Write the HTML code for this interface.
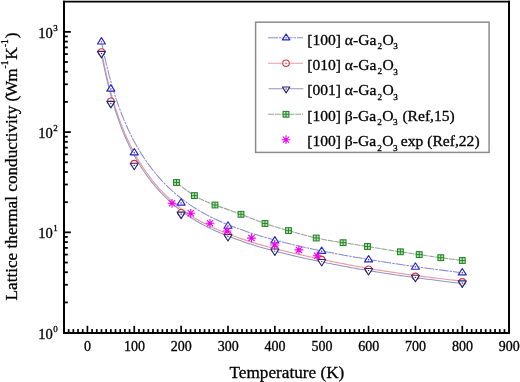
<!DOCTYPE html>
<html><head><meta charset="utf-8"><style>
html,body{margin:0;padding:0;background:#fff;}
svg{display:block;font-family:"Liberation Serif","Times New Roman",serif;}
text{stroke:#000;stroke-width:0.3px;paint-order:stroke;}
</style></head><body>
<svg width="520" height="382" viewBox="0 0 520 382">
<rect width="520" height="382" fill="#fff"/>
<path d="M101.46,41.80 L102.36,46.27 L103.28,50.65 L104.22,54.94 L105.17,59.14 L106.13,63.25 L107.11,67.28 L108.10,71.22 L109.10,75.08 L110.12,78.86 L111.15,82.55 L112.20,86.17 L113.25,89.72 L114.33,93.19 L115.41,96.58 L116.51,99.90 L117.62,103.16 L118.75,106.34 L119.89,109.45 L121.04,112.50 L122.20,115.48 L123.38,118.40 L124.57,121.26 L125.77,124.06 L126.99,126.80 L128.21,129.48 L129.45,132.11 L130.71,134.68 L131.97,137.20 L133.25,139.66 L134.54,142.08 L135.84,144.45 L137.15,146.77 L138.48,149.05 L139.81,151.28 L141.16,153.46 L142.52,155.60 L143.89,157.70 L145.26,159.76 L146.65,161.77 L148.05,163.74 L149.45,165.67 L150.86,167.55 L152.28,169.40 L153.71,171.21 L155.15,172.98 L156.59,174.71 L158.04,176.41 L159.49,178.06 L160.95,179.68 L162.42,181.27 L163.89,182.82 L165.36,184.33 L166.84,185.81 L168.32,187.26 L169.81,188.68 L171.30,190.06 L172.79,191.41 L174.28,192.73 L175.77,194.02 L177.27,195.28 L178.77,196.51 L180.26,197.71 L181.76,198.88 L183.26,200.03 L184.76,201.15 L186.26,202.24 L187.75,203.31 L189.25,204.35 L190.75,205.37 L192.25,206.36 L193.74,207.33 L195.24,208.28 L196.74,209.21 L198.24,210.12 L199.74,211.00 L201.23,211.87 L202.73,212.71 L204.23,213.54 L205.73,214.35 L207.22,215.14 L208.72,215.91 L210.22,216.67 L211.72,217.41 L213.22,218.14 L214.71,218.85 L216.21,219.55 L217.71,220.23 L219.21,220.90 L220.70,221.56 L222.20,222.21 L223.70,222.85 L225.20,223.48 L226.70,224.09 L228.19,224.70 L229.69,225.30 L231.19,225.90 L232.69,226.48 L234.19,227.05 L235.68,227.62 L237.18,228.18 L238.68,228.73 L240.18,229.28 L241.67,229.82 L243.17,230.35 L244.67,230.87 L246.17,231.38 L247.67,231.89 L249.16,232.40 L250.66,232.89 L252.16,233.38 L253.66,233.86 L255.15,234.34 L256.65,234.81 L258.15,235.27 L259.65,235.73 L261.15,236.18 L262.64,236.63 L264.14,237.07 L265.64,237.50 L267.14,237.93 L268.63,238.36 L270.13,238.78 L271.63,239.19 L273.13,239.60 L274.63,240.01 L276.12,240.41 L277.62,240.81 L279.12,241.20 L280.62,241.59 L282.12,241.97 L283.61,242.35 L285.11,242.73 L286.61,243.10 L288.11,243.47 L289.60,243.83 L291.10,244.19 L292.60,244.55 L294.10,244.90 L295.60,245.25 L297.09,245.60 L298.59,245.94 L300.09,246.28 L301.59,246.62 L303.08,246.95 L304.58,247.28 L306.08,247.61 L307.58,247.94 L309.08,248.26 L310.57,248.58 L312.07,248.90 L313.57,249.21 L315.07,249.53 L316.56,249.84 L318.06,250.14 L319.56,250.45 L321.06,250.75 L322.56,251.06 L324.05,251.36 L325.55,251.65 L327.06,251.95 L328.56,252.25 L330.07,252.54 L331.58,252.83 L333.10,253.12 L334.62,253.42 L336.15,253.71 L337.68,254.00 L339.23,254.29 L340.78,254.57 L342.35,254.86 L343.92,255.15 L345.50,255.44 L347.10,255.73 L348.71,256.02 L350.33,256.31 L351.97,256.60 L353.62,256.89 L355.29,257.19 L356.97,257.48 L358.68,257.77 L360.40,258.07 L362.13,258.37 L363.89,258.67 L365.67,258.97 L367.47,259.27 L369.29,259.58 L371.13,259.89 L373.00,260.20 L374.89,260.51 L376.81,260.83 L378.77,261.15 L380.76,261.47 L382.79,261.79 L384.86,262.12 L386.99,262.46 L389.16,262.80 L391.39,263.15 L393.68,263.50 L396.04,263.85 L398.46,264.22 L400.95,264.58 L403.51,264.96 L406.16,265.34 L408.88,265.73 L411.70,266.13 L414.60,266.54 L417.60,266.95 L420.69,267.38 L423.89,267.81 L427.19,268.25 L430.60,268.70 L434.13,269.16 L437.77,269.64 L441.53,270.12 L445.41,270.61 L449.43,271.12 L453.58,271.63 L457.86,272.16 L462.28,272.70" fill="none" stroke="#8a8ad8" stroke-width="1.05" stroke-dasharray="10 1 2.5 1"/><path d="M101.46,51.40 L102.36,56.06 L103.28,60.62 L104.22,65.08 L105.17,69.43 L106.13,73.69 L107.11,77.85 L108.10,81.91 L109.10,85.87 L110.12,89.75 L111.15,93.54 L112.20,97.23 L113.25,100.84 L114.33,104.37 L115.41,107.82 L116.51,111.18 L117.62,114.47 L118.75,117.68 L119.89,120.81 L121.04,123.88 L122.20,126.87 L123.38,129.79 L124.57,132.65 L125.77,135.44 L126.99,138.17 L128.21,140.84 L129.45,143.45 L130.71,146.00 L131.97,148.50 L133.25,150.94 L134.54,153.33 L135.84,155.67 L137.15,157.97 L138.48,160.22 L139.81,162.42 L141.16,164.57 L142.52,166.69 L143.89,168.75 L145.26,170.78 L146.65,172.76 L148.05,174.70 L149.45,176.60 L150.86,178.46 L152.28,180.27 L153.71,182.05 L155.15,183.79 L156.59,185.49 L158.04,187.15 L159.49,188.77 L160.95,190.36 L162.42,191.91 L163.89,193.43 L165.36,194.91 L166.84,196.36 L168.32,197.77 L169.81,199.16 L171.30,200.51 L172.79,201.82 L174.28,203.11 L175.77,204.37 L177.27,205.59 L178.77,206.79 L180.26,207.96 L181.76,209.10 L183.26,210.22 L184.76,211.30 L186.26,212.37 L187.75,213.40 L189.25,214.41 L190.75,215.40 L192.25,216.36 L193.74,217.31 L195.24,218.22 L196.74,219.12 L198.24,220.00 L199.74,220.85 L201.23,221.69 L202.73,222.50 L204.23,223.30 L205.73,224.08 L207.22,224.84 L208.72,225.58 L210.22,226.31 L211.72,227.02 L213.22,227.72 L214.71,228.40 L216.21,229.07 L217.71,229.73 L219.21,230.37 L220.70,231.00 L222.20,231.62 L223.70,232.23 L225.20,232.83 L226.70,233.42 L228.19,234.00 L229.69,234.57 L231.19,235.13 L232.69,235.69 L234.19,236.24 L235.68,236.78 L237.18,237.31 L238.68,237.83 L240.18,238.35 L241.67,238.86 L243.17,239.36 L244.67,239.85 L246.17,240.34 L247.67,240.83 L249.16,241.30 L250.66,241.77 L252.16,242.23 L253.66,242.69 L255.15,243.14 L256.65,243.59 L258.15,244.03 L259.65,244.46 L261.15,244.89 L262.64,245.31 L264.14,245.73 L265.64,246.15 L267.14,246.56 L268.63,246.96 L270.13,247.37 L271.63,247.76 L273.13,248.16 L274.63,248.54 L276.12,248.93 L277.62,249.31 L279.12,249.69 L280.62,250.07 L282.12,250.44 L283.61,250.81 L285.11,251.17 L286.61,251.53 L288.11,251.89 L289.60,252.25 L291.10,252.60 L292.60,252.95 L294.10,253.30 L295.60,253.65 L297.09,253.99 L298.59,254.33 L300.09,254.67 L301.59,255.00 L303.08,255.34 L304.58,255.67 L306.08,256.00 L307.58,256.33 L309.08,256.65 L310.57,256.98 L312.07,257.30 L313.57,257.62 L315.07,257.95 L316.56,258.26 L318.06,258.58 L319.56,258.90 L321.06,259.21 L322.56,259.53 L324.05,259.84 L325.55,260.16 L327.06,260.47 L328.56,260.78 L330.07,261.09 L331.58,261.40 L333.10,261.71 L334.62,262.02 L336.15,262.33 L337.68,262.64 L339.23,262.95 L340.78,263.26 L342.35,263.56 L343.92,263.87 L345.50,264.18 L347.10,264.49 L348.71,264.79 L350.33,265.10 L351.97,265.41 L353.62,265.72 L355.29,266.03 L356.97,266.34 L358.68,266.65 L360.40,266.96 L362.13,267.27 L363.89,267.58 L365.67,267.89 L367.47,268.20 L369.29,268.52 L371.13,268.83 L373.00,269.15 L374.89,269.47 L376.81,269.78 L378.77,270.10 L380.76,270.42 L382.79,270.75 L384.86,271.08 L386.99,271.41 L389.16,271.74 L391.39,272.08 L393.68,272.42 L396.04,272.77 L398.46,273.12 L400.95,273.47 L403.51,273.84 L406.16,274.21 L408.88,274.58 L411.70,274.96 L414.60,275.35 L417.60,275.75 L420.69,276.15 L423.89,276.56 L427.19,276.98 L430.60,277.41 L434.13,277.85 L437.77,278.30 L441.53,278.75 L445.41,279.22 L449.43,279.70 L453.58,280.19 L457.86,280.69 L462.28,281.20" fill="none" stroke="#e99ca2" stroke-width="1.15"/><path d="M101.46,53.70 L102.36,58.44 L103.28,63.06 L104.22,67.58 L105.17,71.99 L106.13,76.30 L107.11,80.50 L108.10,84.60 L109.10,88.60 L110.12,92.51 L111.15,96.32 L112.20,100.03 L113.25,103.66 L114.33,107.20 L115.41,110.66 L116.51,114.03 L117.62,117.32 L118.75,120.53 L119.89,123.66 L121.04,126.71 L122.20,129.70 L123.38,132.61 L124.57,135.45 L125.77,138.23 L126.99,140.94 L128.21,143.59 L129.45,146.18 L130.71,148.72 L131.97,151.19 L133.25,153.61 L134.54,155.98 L135.84,158.30 L137.15,160.58 L138.48,162.80 L139.81,164.98 L141.16,167.12 L142.52,169.21 L143.89,171.26 L145.26,173.26 L146.65,175.23 L148.05,177.15 L149.45,179.02 L150.86,180.86 L152.28,182.66 L153.71,184.42 L155.15,186.14 L156.59,187.82 L158.04,189.47 L159.49,191.07 L160.95,192.64 L162.42,194.18 L163.89,195.68 L165.36,197.15 L166.84,198.58 L168.32,199.98 L169.81,201.35 L171.30,202.69 L172.79,204.00 L174.28,205.27 L175.77,206.52 L177.27,207.73 L178.77,208.92 L180.26,210.08 L181.76,211.22 L183.26,212.32 L184.76,213.40 L186.26,214.46 L187.75,215.49 L189.25,216.50 L190.75,217.48 L192.25,218.44 L193.74,219.38 L195.24,220.30 L196.74,221.19 L198.24,222.07 L199.74,222.92 L201.23,223.76 L202.73,224.57 L204.23,225.37 L205.73,226.15 L207.22,226.92 L208.72,227.66 L210.22,228.40 L211.72,229.11 L213.22,229.81 L214.71,230.50 L216.21,231.18 L217.71,231.84 L219.21,232.49 L220.70,233.13 L222.20,233.76 L223.70,234.37 L225.20,234.98 L226.70,235.58 L228.19,236.17 L229.69,236.75 L231.19,237.32 L232.69,237.89 L234.19,238.45 L235.68,239.00 L237.18,239.54 L238.68,240.07 L240.18,240.60 L241.67,241.12 L243.17,241.64 L244.67,242.15 L246.17,242.65 L247.67,243.14 L249.16,243.63 L250.66,244.11 L252.16,244.59 L253.66,245.06 L255.15,245.52 L256.65,245.98 L258.15,246.43 L259.65,246.88 L261.15,247.32 L262.64,247.75 L264.14,248.18 L265.64,248.61 L267.14,249.03 L268.63,249.44 L270.13,249.85 L271.63,250.26 L273.13,250.66 L274.63,251.06 L276.12,251.45 L277.62,251.84 L279.12,252.23 L280.62,252.61 L282.12,252.99 L283.61,253.36 L285.11,253.73 L286.61,254.10 L288.11,254.46 L289.60,254.82 L291.10,255.17 L292.60,255.53 L294.10,255.88 L295.60,256.22 L297.09,256.57 L298.59,256.91 L300.09,257.25 L301.59,257.58 L303.08,257.91 L304.58,258.24 L306.08,258.57 L307.58,258.90 L309.08,259.22 L310.57,259.54 L312.07,259.86 L313.57,260.18 L315.07,260.49 L316.56,260.81 L318.06,261.12 L319.56,261.43 L321.06,261.74 L322.56,262.04 L324.05,262.35 L325.55,262.65 L327.06,262.95 L328.56,263.26 L330.07,263.56 L331.58,263.86 L333.10,264.16 L334.62,264.45 L336.15,264.75 L337.68,265.05 L339.23,265.35 L340.78,265.64 L342.35,265.94 L343.92,266.23 L345.50,266.53 L347.10,266.83 L348.71,267.12 L350.33,267.42 L351.97,267.71 L353.62,268.01 L355.29,268.31 L356.97,268.61 L358.68,268.91 L360.40,269.20 L362.13,269.50 L363.89,269.81 L365.67,270.11 L367.47,270.41 L369.29,270.72 L371.13,271.02 L373.00,271.33 L374.89,271.64 L376.81,271.95 L378.77,272.26 L380.76,272.58 L382.79,272.90 L384.86,273.22 L386.99,273.55 L389.16,273.88 L391.39,274.21 L393.68,274.55 L396.04,274.90 L398.46,275.25 L400.95,275.61 L403.51,275.97 L406.16,276.34 L408.88,276.72 L411.70,277.10 L414.60,277.50 L417.60,277.90 L420.69,278.31 L423.89,278.73 L427.19,279.16 L430.60,279.59 L434.13,280.04 L437.77,280.50 L441.53,280.97 L445.41,281.45 L449.43,281.95 L453.58,282.45 L457.86,282.97 L462.28,283.50" fill="none" stroke="#9494c0" stroke-width="1.05"/><path d="M176.50,182.50 L177.22,183.07 L177.93,183.64 L178.65,184.20 L179.37,184.77 L180.08,185.33 L180.80,185.90 L181.51,186.46 L182.23,187.01 L182.95,187.56 L183.66,188.11 L184.38,188.66 L185.10,189.20 L185.81,189.73 L186.53,190.26 L187.24,190.79 L187.96,191.31 L188.68,191.82 L189.39,192.32 L190.11,192.81 L190.83,193.30 L191.54,193.78 L192.26,194.25 L192.97,194.71 L193.69,195.16 L194.41,195.60 L195.12,196.03 L195.84,196.45 L196.56,196.86 L197.27,197.27 L197.99,197.66 L198.71,198.04 L199.42,198.41 L200.14,198.78 L200.85,199.13 L201.57,199.48 L202.29,199.82 L203.00,200.16 L203.72,200.49 L204.44,200.81 L205.15,201.12 L205.87,201.43 L206.58,201.74 L207.30,202.03 L208.02,202.33 L208.73,202.62 L209.45,202.90 L210.17,203.18 L210.88,203.46 L211.60,203.73 L212.31,204.00 L213.03,204.27 L213.75,204.54 L214.46,204.80 L215.18,205.07 L215.90,205.33 L216.61,205.59 L217.33,205.84 L218.04,206.10 L218.76,206.36 L219.48,206.61 L220.19,206.87 L220.91,207.12 L221.63,207.37 L222.34,207.63 L223.06,207.88 L223.78,208.13 L224.49,208.38 L225.21,208.63 L225.92,208.88 L226.64,209.13 L227.36,209.38 L228.07,209.64 L228.79,209.89 L229.51,210.14 L230.22,210.39 L230.94,210.64 L231.65,210.90 L232.37,211.15 L233.09,211.40 L233.80,211.66 L234.52,211.92 L235.24,212.17 L235.95,212.43 L236.67,212.69 L237.38,212.96 L238.10,213.22 L238.82,213.48 L239.53,213.75 L240.25,214.02 L240.97,214.29 L241.68,214.56 L242.40,214.83 L243.12,215.11 L243.83,215.38 L244.55,215.66 L245.26,215.94 L245.98,216.22 L246.70,216.50 L247.41,216.78 L248.13,217.07 L248.85,217.35 L249.56,217.63 L250.28,217.92 L250.99,218.20 L251.71,218.48 L252.43,218.76 L253.14,219.05 L253.86,219.33 L254.58,219.61 L255.29,219.89 L256.01,220.17 L256.72,220.44 L257.44,220.72 L258.16,220.99 L258.87,221.27 L259.59,221.54 L260.31,221.80 L261.02,222.07 L261.74,222.33 L262.45,222.59 L263.17,222.85 L263.89,223.11 L264.60,223.36 L265.32,223.61 L266.04,223.86 L266.75,224.10 L267.47,224.34 L268.19,224.58 L268.90,224.81 L269.62,225.05 L270.33,225.28 L271.05,225.50 L271.77,225.73 L272.48,225.95 L273.20,226.17 L273.92,226.39 L274.63,226.61 L275.35,226.82 L276.06,227.04 L276.78,227.25 L277.50,227.46 L278.21,227.67 L278.93,227.88 L279.65,228.08 L280.36,228.29 L281.08,228.49 L281.79,228.70 L282.51,228.90 L283.23,229.11 L283.94,229.31 L284.66,229.51 L285.38,229.72 L286.09,229.92 L286.81,230.12 L287.53,230.32 L288.24,230.53 L288.96,230.73 L289.67,230.93 L290.39,231.14 L291.11,231.34 L291.82,231.55 L292.54,231.75 L293.26,231.96 L293.97,232.16 L294.69,232.36 L295.40,232.57 L296.12,232.77 L296.84,232.98 L297.55,233.18 L298.27,233.38 L298.99,233.58 L299.70,233.78 L300.42,233.98 L301.13,234.18 L301.85,234.38 L302.57,234.58 L303.28,234.77 L304.00,234.96 L304.72,235.16 L305.43,235.35 L306.15,235.54 L306.86,235.73 L307.58,235.91 L308.30,236.10 L309.01,236.28 L309.73,236.46 L310.45,236.64 L311.16,236.82 L311.88,236.99 L312.60,237.17 L313.31,237.34 L314.03,237.51 L314.74,237.67 L315.46,237.83 L316.18,237.99 L316.89,238.15 L317.61,238.31 L318.33,238.46 L319.04,238.61 L319.76,238.76 L320.47,238.90 L321.19,239.04 L321.91,239.19 L322.62,239.32 L323.34,239.46 L324.06,239.59 L324.77,239.73 L325.49,239.86 L326.20,239.99 L326.92,240.11 L327.64,240.24 L328.35,240.36 L329.07,240.49 L329.79,240.61 L330.50,240.73 L331.22,240.84 L331.94,240.96 L332.65,241.08 L333.37,241.19 L334.08,241.31 L334.80,241.42 L335.52,241.53 L336.23,241.65 L336.95,241.76 L337.67,241.87 L338.38,241.98 L339.10,242.09 L339.81,242.20 L340.53,242.31 L341.25,242.42 L341.96,242.53 L342.68,242.64 L343.40,242.75 L344.11,242.85 L344.83,242.96 L345.54,243.07 L346.26,243.18 L346.98,243.29 L347.69,243.40 L348.41,243.51 L349.13,243.62 L349.84,243.73 L350.56,243.84 L351.27,243.95 L351.99,244.06 L352.71,244.17 L353.42,244.28 L354.14,244.40 L354.86,244.51 L355.57,244.62 L356.29,244.73 L357.01,244.84 L357.72,244.95 L358.44,245.06 L359.15,245.18 L359.87,245.29 L360.59,245.40 L361.30,245.51 L362.02,245.63 L362.74,245.74 L363.45,245.85 L364.17,245.97 L364.88,246.08 L365.60,246.20 L366.32,246.31 L367.03,246.43 L367.75,246.54 L368.47,246.66 L369.18,246.77 L369.90,246.89 L370.61,247.00 L371.33,247.12 L372.05,247.23 L372.76,247.35 L373.48,247.47 L374.20,247.58 L374.91,247.70 L375.63,247.82 L376.35,247.93 L377.06,248.05 L377.78,248.17 L378.49,248.28 L379.21,248.40 L379.93,248.52 L380.64,248.64 L381.36,248.75 L382.08,248.87 L382.79,248.99 L383.51,249.10 L384.22,249.22 L384.94,249.34 L385.66,249.45 L386.37,249.57 L387.09,249.69 L387.81,249.80 L388.52,249.92 L389.24,250.03 L389.95,250.15 L390.67,250.26 L391.39,250.38 L392.10,250.49 L392.82,250.61 L393.54,250.72 L394.25,250.84 L394.97,250.95 L395.68,251.06 L396.40,251.18 L397.12,251.29 L397.83,251.40 L398.55,251.51 L399.27,251.62 L399.98,251.74 L400.70,251.85 L401.42,251.96 L402.13,252.07 L402.85,252.18 L403.56,252.28 L404.28,252.39 L405.00,252.50 L405.71,252.61 L406.43,252.72 L407.15,252.82 L407.86,252.93 L408.58,253.04 L409.29,253.14 L410.01,253.25 L410.73,253.36 L411.44,253.46 L412.16,253.57 L412.88,253.67 L413.59,253.78 L414.31,253.88 L415.02,253.99 L415.74,254.09 L416.46,254.20 L417.17,254.30 L417.89,254.41 L418.61,254.51 L419.32,254.62 L420.04,254.72 L420.76,254.83 L421.47,254.93 L422.19,255.04 L422.90,255.14 L423.62,255.25 L424.34,255.35 L425.05,255.46 L425.77,255.56 L426.49,255.67 L427.20,255.77 L427.92,255.87 L428.63,255.98 L429.35,256.08 L430.07,256.19 L430.78,256.29 L431.50,256.39 L432.22,256.49 L432.93,256.60 L433.65,256.70 L434.36,256.80 L435.08,256.90 L435.80,257.00 L436.51,257.10 L437.23,257.21 L437.95,257.31 L438.66,257.41 L439.38,257.50 L440.09,257.60 L440.81,257.70 L441.53,257.80 L442.24,257.90 L442.96,257.99 L443.68,258.09 L444.39,258.19 L445.11,258.28 L445.83,258.38 L446.54,258.47 L447.26,258.57 L447.97,258.66 L448.69,258.76 L449.41,258.85 L450.12,258.94 L450.84,259.04 L451.56,259.13 L452.27,259.22 L452.99,259.31 L453.70,259.40 L454.42,259.50 L455.14,259.59 L455.85,259.68 L456.57,259.77 L457.29,259.86 L458.00,259.95 L458.72,260.05 L459.43,260.14 L460.15,260.23 L460.87,260.32 L461.58,260.41 L462.30,260.50" fill="none" stroke="#98a898" stroke-width="1.1" stroke-dasharray="6 0.8"/><circle cx="101.46" cy="52.00" r="3.25" fill="#fff" stroke="#dc3434" stroke-width="1.15"/><circle cx="101.46" cy="52.00" r="0.8" fill="#dc3434"/><circle cx="110.83" cy="101.20" r="3.25" fill="#fff" stroke="#dc3434" stroke-width="1.15"/><circle cx="110.83" cy="101.20" r="0.8" fill="#dc3434"/><circle cx="134.26" cy="163.60" r="3.25" fill="#fff" stroke="#dc3434" stroke-width="1.15"/><circle cx="134.26" cy="163.60" r="0.8" fill="#dc3434"/><circle cx="181.12" cy="212.70" r="3.25" fill="#fff" stroke="#dc3434" stroke-width="1.15"/><circle cx="181.12" cy="212.70" r="0.8" fill="#dc3434"/><circle cx="227.98" cy="234.70" r="3.25" fill="#fff" stroke="#dc3434" stroke-width="1.15"/><circle cx="227.98" cy="234.70" r="0.8" fill="#dc3434"/><circle cx="274.84" cy="249.00" r="3.25" fill="#fff" stroke="#dc3434" stroke-width="1.15"/><circle cx="274.84" cy="249.00" r="0.8" fill="#dc3434"/><circle cx="321.70" cy="259.60" r="3.25" fill="#fff" stroke="#dc3434" stroke-width="1.15"/><circle cx="321.70" cy="259.60" r="0.8" fill="#dc3434"/><circle cx="368.56" cy="269.20" r="3.25" fill="#fff" stroke="#dc3434" stroke-width="1.15"/><circle cx="368.56" cy="269.20" r="0.8" fill="#dc3434"/><circle cx="415.42" cy="276.40" r="3.25" fill="#fff" stroke="#dc3434" stroke-width="1.15"/><circle cx="415.42" cy="276.40" r="0.8" fill="#dc3434"/><circle cx="462.28" cy="281.80" r="3.25" fill="#fff" stroke="#dc3434" stroke-width="1.15"/><circle cx="462.28" cy="281.80" r="0.8" fill="#dc3434"/><path d="M101.46,37.60 L105.46,44.00 L97.46,44.00 Z" fill="#fff" stroke="#2626c8" stroke-width="1.15" stroke-linejoin="round"/><circle cx="101.46" cy="41.87" r="0.7" fill="#2626c8"/><path d="M110.83,84.70 L114.83,91.10 L106.83,91.10 Z" fill="#fff" stroke="#2626c8" stroke-width="1.15" stroke-linejoin="round"/><circle cx="110.83" cy="88.97" r="0.7" fill="#2626c8"/><path d="M134.26,148.50 L138.26,154.90 L130.26,154.90 Z" fill="#fff" stroke="#2626c8" stroke-width="1.15" stroke-linejoin="round"/><circle cx="134.26" cy="152.77" r="0.7" fill="#2626c8"/><path d="M181.12,198.70 L185.12,205.10 L177.12,205.10 Z" fill="#fff" stroke="#2626c8" stroke-width="1.15" stroke-linejoin="round"/><circle cx="181.12" cy="202.97" r="0.7" fill="#2626c8"/><path d="M227.98,221.80 L231.98,228.20 L223.98,228.20 Z" fill="#fff" stroke="#2626c8" stroke-width="1.15" stroke-linejoin="round"/><circle cx="227.98" cy="226.07" r="0.7" fill="#2626c8"/><path d="M274.84,236.60 L278.84,243.00 L270.84,243.00 Z" fill="#fff" stroke="#2626c8" stroke-width="1.15" stroke-linejoin="round"/><circle cx="274.84" cy="240.87" r="0.7" fill="#2626c8"/><path d="M321.70,247.00 L325.70,253.40 L317.70,253.40 Z" fill="#fff" stroke="#2626c8" stroke-width="1.15" stroke-linejoin="round"/><circle cx="321.70" cy="251.27" r="0.7" fill="#2626c8"/><path d="M368.56,255.50 L372.56,261.90 L364.56,261.90 Z" fill="#fff" stroke="#2626c8" stroke-width="1.15" stroke-linejoin="round"/><circle cx="368.56" cy="259.77" r="0.7" fill="#2626c8"/><path d="M415.42,262.80 L419.42,269.20 L411.42,269.20 Z" fill="#fff" stroke="#2626c8" stroke-width="1.15" stroke-linejoin="round"/><circle cx="415.42" cy="267.07" r="0.7" fill="#2626c8"/><path d="M462.28,268.50 L466.28,274.90 L458.28,274.90 Z" fill="#fff" stroke="#2626c8" stroke-width="1.15" stroke-linejoin="round"/><circle cx="462.28" cy="272.77" r="0.7" fill="#2626c8"/><path d="M97.46,51.35 L105.46,51.35 L101.46,57.85 Z" fill="#fff" stroke="#26267a" stroke-width="1.15" stroke-linejoin="round"/><circle cx="101.46" cy="53.52" r="0.7" fill="#26267a"/><path d="M106.83,101.35 L114.83,101.35 L110.83,107.85 Z" fill="#fff" stroke="#26267a" stroke-width="1.15" stroke-linejoin="round"/><circle cx="110.83" cy="103.52" r="0.7" fill="#26267a"/><path d="M130.26,163.25 L138.26,163.25 L134.26,169.75 Z" fill="#fff" stroke="#26267a" stroke-width="1.15" stroke-linejoin="round"/><circle cx="134.26" cy="165.42" r="0.7" fill="#26267a"/><path d="M177.12,212.15 L185.12,212.15 L181.12,218.65 Z" fill="#fff" stroke="#26267a" stroke-width="1.15" stroke-linejoin="round"/><circle cx="181.12" cy="214.32" r="0.7" fill="#26267a"/><path d="M223.98,234.45 L231.98,234.45 L227.98,240.95 Z" fill="#fff" stroke="#26267a" stroke-width="1.15" stroke-linejoin="round"/><circle cx="227.98" cy="236.62" r="0.7" fill="#26267a"/><path d="M270.84,248.95 L278.84,248.95 L274.84,255.45 Z" fill="#fff" stroke="#26267a" stroke-width="1.15" stroke-linejoin="round"/><circle cx="274.84" cy="251.12" r="0.7" fill="#26267a"/><path d="M317.70,259.45 L325.70,259.45 L321.70,265.95 Z" fill="#fff" stroke="#26267a" stroke-width="1.15" stroke-linejoin="round"/><circle cx="321.70" cy="261.62" r="0.7" fill="#26267a"/><path d="M364.56,268.45 L372.56,268.45 L368.56,274.95 Z" fill="#fff" stroke="#26267a" stroke-width="1.15" stroke-linejoin="round"/><circle cx="368.56" cy="270.62" r="0.7" fill="#26267a"/><path d="M411.42,275.25 L419.42,275.25 L415.42,281.75 Z" fill="#fff" stroke="#26267a" stroke-width="1.15" stroke-linejoin="round"/><circle cx="415.42" cy="277.42" r="0.7" fill="#26267a"/><path d="M458.28,280.85 L466.28,280.85 L462.28,287.35 Z" fill="#fff" stroke="#26267a" stroke-width="1.15" stroke-linejoin="round"/><circle cx="462.28" cy="283.02" r="0.7" fill="#26267a"/><rect x="173.60" y="179.60" width="5.8" height="5.8" fill="#a8eca8" stroke="#2a7f2a" stroke-width="1.05"/><path d="M176.50,179.60 V185.40 M173.60,182.50 H179.40" stroke="#2a7f2a" stroke-width="0.95"/><rect x="191.50" y="192.70" width="5.8" height="5.8" fill="#a8eca8" stroke="#2a7f2a" stroke-width="1.05"/><path d="M194.40,192.70 V198.50 M191.50,195.60 H197.30" stroke="#2a7f2a" stroke-width="0.95"/><rect x="212.10" y="202.10" width="5.8" height="5.8" fill="#a8eca8" stroke="#2a7f2a" stroke-width="1.05"/><path d="M215.00,202.10 V207.90 M212.10,205.00 H217.90" stroke="#2a7f2a" stroke-width="0.95"/><rect x="238.10" y="211.40" width="5.8" height="5.8" fill="#a8eca8" stroke="#2a7f2a" stroke-width="1.05"/><path d="M241.00,211.40 V217.20 M238.10,214.30 H243.90" stroke="#2a7f2a" stroke-width="0.95"/><rect x="262.10" y="220.60" width="5.8" height="5.8" fill="#a8eca8" stroke="#2a7f2a" stroke-width="1.05"/><path d="M265.00,220.60 V226.40 M262.10,223.50 H267.90" stroke="#2a7f2a" stroke-width="0.95"/><rect x="285.60" y="227.70" width="5.8" height="5.8" fill="#a8eca8" stroke="#2a7f2a" stroke-width="1.05"/><path d="M288.50,227.70 V233.50 M285.60,230.60 H291.40" stroke="#2a7f2a" stroke-width="0.95"/><rect x="313.30" y="235.10" width="5.8" height="5.8" fill="#a8eca8" stroke="#2a7f2a" stroke-width="1.05"/><path d="M316.20,235.10 V240.90 M313.30,238.00 H319.10" stroke="#2a7f2a" stroke-width="0.95"/><rect x="340.20" y="239.80" width="5.8" height="5.8" fill="#a8eca8" stroke="#2a7f2a" stroke-width="1.05"/><path d="M343.10,239.80 V245.60 M340.20,242.70 H346.00" stroke="#2a7f2a" stroke-width="0.95"/><rect x="364.60" y="243.60" width="5.8" height="5.8" fill="#a8eca8" stroke="#2a7f2a" stroke-width="1.05"/><path d="M367.50,243.60 V249.40 M364.60,246.50 H370.40" stroke="#2a7f2a" stroke-width="0.95"/><rect x="397.50" y="248.90" width="5.8" height="5.8" fill="#a8eca8" stroke="#2a7f2a" stroke-width="1.05"/><path d="M400.40,248.90 V254.70 M397.50,251.80 H403.30" stroke="#2a7f2a" stroke-width="0.95"/><rect x="416.30" y="251.70" width="5.8" height="5.8" fill="#a8eca8" stroke="#2a7f2a" stroke-width="1.05"/><path d="M419.20,251.70 V257.50 M416.30,254.60 H422.10" stroke="#2a7f2a" stroke-width="0.95"/><rect x="437.90" y="254.80" width="5.8" height="5.8" fill="#a8eca8" stroke="#2a7f2a" stroke-width="1.05"/><path d="M440.80,254.80 V260.60 M437.90,257.70 H443.70" stroke="#2a7f2a" stroke-width="0.95"/><rect x="459.40" y="257.60" width="5.8" height="5.8" fill="#a8eca8" stroke="#2a7f2a" stroke-width="1.05"/><path d="M462.30,257.60 V263.40 M459.40,260.50 H465.20" stroke="#2a7f2a" stroke-width="0.95"/><path d="M167.60,203.30 L176.40,203.30 M168.89,200.19 L175.11,206.41 M172.00,198.90 L172.00,207.70 M175.11,200.19 L168.89,206.41 " stroke="#f000f0" stroke-width="1.1"/><circle cx="172.00" cy="203.30" r="1.6" fill="#f000f0"/><path d="M186.40,213.30 L195.20,213.30 M187.69,210.19 L193.91,216.41 M190.80,208.90 L190.80,217.70 M193.91,210.19 L187.69,216.41 " stroke="#f000f0" stroke-width="1.1"/><circle cx="190.80" cy="213.30" r="1.6" fill="#f000f0"/><path d="M205.60,223.30 L214.40,223.30 M206.89,220.19 L213.11,226.41 M210.00,218.90 L210.00,227.70 M213.11,220.19 L206.89,226.41 " stroke="#f000f0" stroke-width="1.1"/><circle cx="210.00" cy="223.30" r="1.6" fill="#f000f0"/><path d="M222.60,231.00 L231.40,231.00 M223.89,227.89 L230.11,234.11 M227.00,226.60 L227.00,235.40 M230.11,227.89 L223.89,234.11 " stroke="#f000f0" stroke-width="1.1"/><circle cx="227.00" cy="231.00" r="1.6" fill="#f000f0"/><path d="M247.10,238.10 L255.90,238.10 M248.39,234.99 L254.61,241.21 M251.50,233.70 L251.50,242.50 M254.61,234.99 L248.39,241.21 " stroke="#f000f0" stroke-width="1.1"/><circle cx="251.50" cy="238.10" r="1.6" fill="#f000f0"/><path d="M270.20,245.00 L279.00,245.00 M271.49,241.89 L277.71,248.11 M274.60,240.60 L274.60,249.40 M277.71,241.89 L271.49,248.11 " stroke="#f000f0" stroke-width="1.1"/><circle cx="274.60" cy="245.00" r="1.6" fill="#f000f0"/><path d="M294.50,249.90 L303.30,249.90 M295.79,246.79 L302.01,253.01 M298.90,245.50 L298.90,254.30 M302.01,246.79 L295.79,253.01 " stroke="#f000f0" stroke-width="1.1"/><circle cx="298.90" cy="249.90" r="1.6" fill="#f000f0"/><path d="M312.80,255.80 L321.60,255.80 M314.09,252.69 L320.31,258.91 M317.20,251.40 L317.20,260.20 M320.31,252.69 L314.09,258.91 " stroke="#f000f0" stroke-width="1.1"/><circle cx="317.20" cy="255.80" r="1.6" fill="#f000f0"/>
<path d="M64,334 V0.75 M509,334 V0.75 M63,333 H510" fill="none" stroke="#000" stroke-width="2"/><path d="M63,1.6 H510" stroke="#000" stroke-width="1.7"/><line x1="68.66" y1="332" x2="68.66" y2="329.1" stroke="#000" stroke-width="1.7"/><line x1="73.34" y1="332" x2="73.34" y2="329.1" stroke="#000" stroke-width="1.7"/><line x1="78.03" y1="332" x2="78.03" y2="329.1" stroke="#000" stroke-width="1.7"/><line x1="82.71" y1="332" x2="82.71" y2="329.1" stroke="#000" stroke-width="1.7"/><line x1="87.40" y1="332" x2="87.40" y2="325.8" stroke="#000" stroke-width="1.7"/><line x1="92.09" y1="332" x2="92.09" y2="329.1" stroke="#000" stroke-width="1.7"/><line x1="96.77" y1="332" x2="96.77" y2="329.1" stroke="#000" stroke-width="1.7"/><line x1="101.46" y1="332" x2="101.46" y2="329.1" stroke="#000" stroke-width="1.7"/><line x1="106.14" y1="332" x2="106.14" y2="329.1" stroke="#000" stroke-width="1.7"/><line x1="110.83" y1="332" x2="110.83" y2="329.1" stroke="#000" stroke-width="1.7"/><line x1="115.52" y1="332" x2="115.52" y2="329.1" stroke="#000" stroke-width="1.7"/><line x1="120.20" y1="332" x2="120.20" y2="329.1" stroke="#000" stroke-width="1.7"/><line x1="124.89" y1="332" x2="124.89" y2="329.1" stroke="#000" stroke-width="1.7"/><line x1="129.57" y1="332" x2="129.57" y2="329.1" stroke="#000" stroke-width="1.7"/><line x1="134.26" y1="332" x2="134.26" y2="325.8" stroke="#000" stroke-width="1.7"/><line x1="138.95" y1="332" x2="138.95" y2="329.1" stroke="#000" stroke-width="1.7"/><line x1="143.63" y1="332" x2="143.63" y2="329.1" stroke="#000" stroke-width="1.7"/><line x1="148.32" y1="332" x2="148.32" y2="329.1" stroke="#000" stroke-width="1.7"/><line x1="153.00" y1="332" x2="153.00" y2="329.1" stroke="#000" stroke-width="1.7"/><line x1="157.69" y1="332" x2="157.69" y2="329.1" stroke="#000" stroke-width="1.7"/><line x1="162.38" y1="332" x2="162.38" y2="329.1" stroke="#000" stroke-width="1.7"/><line x1="167.06" y1="332" x2="167.06" y2="329.1" stroke="#000" stroke-width="1.7"/><line x1="171.75" y1="332" x2="171.75" y2="329.1" stroke="#000" stroke-width="1.7"/><line x1="176.43" y1="332" x2="176.43" y2="329.1" stroke="#000" stroke-width="1.7"/><line x1="181.12" y1="332" x2="181.12" y2="325.8" stroke="#000" stroke-width="1.7"/><line x1="185.81" y1="332" x2="185.81" y2="329.1" stroke="#000" stroke-width="1.7"/><line x1="190.49" y1="332" x2="190.49" y2="329.1" stroke="#000" stroke-width="1.7"/><line x1="195.18" y1="332" x2="195.18" y2="329.1" stroke="#000" stroke-width="1.7"/><line x1="199.86" y1="332" x2="199.86" y2="329.1" stroke="#000" stroke-width="1.7"/><line x1="204.55" y1="332" x2="204.55" y2="329.1" stroke="#000" stroke-width="1.7"/><line x1="209.24" y1="332" x2="209.24" y2="329.1" stroke="#000" stroke-width="1.7"/><line x1="213.92" y1="332" x2="213.92" y2="329.1" stroke="#000" stroke-width="1.7"/><line x1="218.61" y1="332" x2="218.61" y2="329.1" stroke="#000" stroke-width="1.7"/><line x1="223.29" y1="332" x2="223.29" y2="329.1" stroke="#000" stroke-width="1.7"/><line x1="227.98" y1="332" x2="227.98" y2="325.8" stroke="#000" stroke-width="1.7"/><line x1="232.67" y1="332" x2="232.67" y2="329.1" stroke="#000" stroke-width="1.7"/><line x1="237.35" y1="332" x2="237.35" y2="329.1" stroke="#000" stroke-width="1.7"/><line x1="242.04" y1="332" x2="242.04" y2="329.1" stroke="#000" stroke-width="1.7"/><line x1="246.72" y1="332" x2="246.72" y2="329.1" stroke="#000" stroke-width="1.7"/><line x1="251.41" y1="332" x2="251.41" y2="329.1" stroke="#000" stroke-width="1.7"/><line x1="256.10" y1="332" x2="256.10" y2="329.1" stroke="#000" stroke-width="1.7"/><line x1="260.78" y1="332" x2="260.78" y2="329.1" stroke="#000" stroke-width="1.7"/><line x1="265.47" y1="332" x2="265.47" y2="329.1" stroke="#000" stroke-width="1.7"/><line x1="270.15" y1="332" x2="270.15" y2="329.1" stroke="#000" stroke-width="1.7"/><line x1="274.84" y1="332" x2="274.84" y2="325.8" stroke="#000" stroke-width="1.7"/><line x1="279.53" y1="332" x2="279.53" y2="329.1" stroke="#000" stroke-width="1.7"/><line x1="284.21" y1="332" x2="284.21" y2="329.1" stroke="#000" stroke-width="1.7"/><line x1="288.90" y1="332" x2="288.90" y2="329.1" stroke="#000" stroke-width="1.7"/><line x1="293.58" y1="332" x2="293.58" y2="329.1" stroke="#000" stroke-width="1.7"/><line x1="298.27" y1="332" x2="298.27" y2="329.1" stroke="#000" stroke-width="1.7"/><line x1="302.96" y1="332" x2="302.96" y2="329.1" stroke="#000" stroke-width="1.7"/><line x1="307.64" y1="332" x2="307.64" y2="329.1" stroke="#000" stroke-width="1.7"/><line x1="312.33" y1="332" x2="312.33" y2="329.1" stroke="#000" stroke-width="1.7"/><line x1="317.01" y1="332" x2="317.01" y2="329.1" stroke="#000" stroke-width="1.7"/><line x1="321.70" y1="332" x2="321.70" y2="325.8" stroke="#000" stroke-width="1.7"/><line x1="326.39" y1="332" x2="326.39" y2="329.1" stroke="#000" stroke-width="1.7"/><line x1="331.07" y1="332" x2="331.07" y2="329.1" stroke="#000" stroke-width="1.7"/><line x1="335.76" y1="332" x2="335.76" y2="329.1" stroke="#000" stroke-width="1.7"/><line x1="340.44" y1="332" x2="340.44" y2="329.1" stroke="#000" stroke-width="1.7"/><line x1="345.13" y1="332" x2="345.13" y2="329.1" stroke="#000" stroke-width="1.7"/><line x1="349.82" y1="332" x2="349.82" y2="329.1" stroke="#000" stroke-width="1.7"/><line x1="354.50" y1="332" x2="354.50" y2="329.1" stroke="#000" stroke-width="1.7"/><line x1="359.19" y1="332" x2="359.19" y2="329.1" stroke="#000" stroke-width="1.7"/><line x1="363.87" y1="332" x2="363.87" y2="329.1" stroke="#000" stroke-width="1.7"/><line x1="368.56" y1="332" x2="368.56" y2="325.8" stroke="#000" stroke-width="1.7"/><line x1="373.25" y1="332" x2="373.25" y2="329.1" stroke="#000" stroke-width="1.7"/><line x1="377.93" y1="332" x2="377.93" y2="329.1" stroke="#000" stroke-width="1.7"/><line x1="382.62" y1="332" x2="382.62" y2="329.1" stroke="#000" stroke-width="1.7"/><line x1="387.30" y1="332" x2="387.30" y2="329.1" stroke="#000" stroke-width="1.7"/><line x1="391.99" y1="332" x2="391.99" y2="329.1" stroke="#000" stroke-width="1.7"/><line x1="396.68" y1="332" x2="396.68" y2="329.1" stroke="#000" stroke-width="1.7"/><line x1="401.36" y1="332" x2="401.36" y2="329.1" stroke="#000" stroke-width="1.7"/><line x1="406.05" y1="332" x2="406.05" y2="329.1" stroke="#000" stroke-width="1.7"/><line x1="410.73" y1="332" x2="410.73" y2="329.1" stroke="#000" stroke-width="1.7"/><line x1="415.42" y1="332" x2="415.42" y2="325.8" stroke="#000" stroke-width="1.7"/><line x1="420.11" y1="332" x2="420.11" y2="329.1" stroke="#000" stroke-width="1.7"/><line x1="424.79" y1="332" x2="424.79" y2="329.1" stroke="#000" stroke-width="1.7"/><line x1="429.48" y1="332" x2="429.48" y2="329.1" stroke="#000" stroke-width="1.7"/><line x1="434.16" y1="332" x2="434.16" y2="329.1" stroke="#000" stroke-width="1.7"/><line x1="438.85" y1="332" x2="438.85" y2="329.1" stroke="#000" stroke-width="1.7"/><line x1="443.54" y1="332" x2="443.54" y2="329.1" stroke="#000" stroke-width="1.7"/><line x1="448.22" y1="332" x2="448.22" y2="329.1" stroke="#000" stroke-width="1.7"/><line x1="452.91" y1="332" x2="452.91" y2="329.1" stroke="#000" stroke-width="1.7"/><line x1="457.59" y1="332" x2="457.59" y2="329.1" stroke="#000" stroke-width="1.7"/><line x1="462.28" y1="332" x2="462.28" y2="325.8" stroke="#000" stroke-width="1.7"/><line x1="466.97" y1="332" x2="466.97" y2="329.1" stroke="#000" stroke-width="1.7"/><line x1="471.65" y1="332" x2="471.65" y2="329.1" stroke="#000" stroke-width="1.7"/><line x1="476.34" y1="332" x2="476.34" y2="329.1" stroke="#000" stroke-width="1.7"/><line x1="481.02" y1="332" x2="481.02" y2="329.1" stroke="#000" stroke-width="1.7"/><line x1="485.71" y1="332" x2="485.71" y2="329.1" stroke="#000" stroke-width="1.7"/><line x1="490.40" y1="332" x2="490.40" y2="329.1" stroke="#000" stroke-width="1.7"/><line x1="495.08" y1="332" x2="495.08" y2="329.1" stroke="#000" stroke-width="1.7"/><line x1="499.77" y1="332" x2="499.77" y2="329.1" stroke="#000" stroke-width="1.7"/><line x1="504.45" y1="332" x2="504.45" y2="329.1" stroke="#000" stroke-width="1.7"/><line x1="65" y1="302.42" x2="67.8" y2="302.42" stroke="#000" stroke-width="1.8"/><line x1="65" y1="284.77" x2="67.8" y2="284.77" stroke="#000" stroke-width="1.8"/><line x1="65" y1="272.24" x2="67.8" y2="272.24" stroke="#000" stroke-width="1.8"/><line x1="65" y1="262.53" x2="67.8" y2="262.53" stroke="#000" stroke-width="1.8"/><line x1="65" y1="254.59" x2="67.8" y2="254.59" stroke="#000" stroke-width="1.8"/><line x1="65" y1="247.88" x2="67.8" y2="247.88" stroke="#000" stroke-width="1.8"/><line x1="65" y1="242.07" x2="67.8" y2="242.07" stroke="#000" stroke-width="1.8"/><line x1="65" y1="236.94" x2="67.8" y2="236.94" stroke="#000" stroke-width="1.8"/><line x1="65" y1="232.35" x2="70.8" y2="232.35" stroke="#000" stroke-width="1.8"/><line x1="65" y1="202.17" x2="67.8" y2="202.17" stroke="#000" stroke-width="1.8"/><line x1="65" y1="184.52" x2="67.8" y2="184.52" stroke="#000" stroke-width="1.8"/><line x1="65" y1="171.99" x2="67.8" y2="171.99" stroke="#000" stroke-width="1.8"/><line x1="65" y1="162.28" x2="67.8" y2="162.28" stroke="#000" stroke-width="1.8"/><line x1="65" y1="154.34" x2="67.8" y2="154.34" stroke="#000" stroke-width="1.8"/><line x1="65" y1="147.63" x2="67.8" y2="147.63" stroke="#000" stroke-width="1.8"/><line x1="65" y1="141.82" x2="67.8" y2="141.82" stroke="#000" stroke-width="1.8"/><line x1="65" y1="136.69" x2="67.8" y2="136.69" stroke="#000" stroke-width="1.8"/><line x1="65" y1="132.10" x2="70.8" y2="132.10" stroke="#000" stroke-width="1.8"/><line x1="65" y1="101.92" x2="67.8" y2="101.92" stroke="#000" stroke-width="1.8"/><line x1="65" y1="84.27" x2="67.8" y2="84.27" stroke="#000" stroke-width="1.8"/><line x1="65" y1="71.74" x2="67.8" y2="71.74" stroke="#000" stroke-width="1.8"/><line x1="65" y1="62.03" x2="67.8" y2="62.03" stroke="#000" stroke-width="1.8"/><line x1="65" y1="54.09" x2="67.8" y2="54.09" stroke="#000" stroke-width="1.8"/><line x1="65" y1="47.38" x2="67.8" y2="47.38" stroke="#000" stroke-width="1.8"/><line x1="65" y1="41.57" x2="67.8" y2="41.57" stroke="#000" stroke-width="1.8"/><line x1="65" y1="36.44" x2="67.8" y2="36.44" stroke="#000" stroke-width="1.8"/><line x1="65" y1="31.85" x2="70.8" y2="31.85" stroke="#000" stroke-width="1.8"/>
<g font-size="14" fill="#000"><text x="87.6" y="351.4" text-anchor="middle">0</text><text x="134.5" y="351.4" text-anchor="middle">100</text><text x="181.3" y="351.4" text-anchor="middle">200</text><text x="228.2" y="351.4" text-anchor="middle">300</text><text x="275.0" y="351.4" text-anchor="middle">400</text><text x="321.9" y="351.4" text-anchor="middle">500</text><text x="368.8" y="351.4" text-anchor="middle">600</text><text x="415.6" y="351.4" text-anchor="middle">700</text><text x="462.5" y="351.4" text-anchor="middle">800</text><text x="509.3" y="351.4" text-anchor="middle">900</text><text x="52.9" y="338.6" text-anchor="end" font-size="14.6">10</text><text x="53.2" y="331.6" font-size="9">0</text><text x="52.9" y="238.4" text-anchor="end" font-size="14.6">10</text><text x="53.2" y="231.4" font-size="9">1</text><text x="52.9" y="138.1" text-anchor="end" font-size="14.6">10</text><text x="53.2" y="131.1" font-size="9">2</text><text x="52.9" y="37.9" text-anchor="end" font-size="14.6">10</text><text x="53.2" y="30.9" font-size="9">3</text></g>
<text x="286.9" y="377.7" font-size="17.2" text-anchor="middle">Temperature (K)</text>
<text transform="translate(16.6,300.5) rotate(-90)" font-size="17.2">Lattice thermal conductivity (<tspan dx="-1.2">W</tspan><tspan dx="-1.1">m</tspan><tspan font-size="9.5" dy="-8.8">-1</tspan><tspan dy="8.8" dx="0.8">K</tspan><tspan font-size="9.5" dy="-8.8" dx="0.2">-1</tspan><tspan dy="8.8" dx="1">)</tspan></text>
<g id="legend">
<rect x="255.6" y="22.2" width="233.5" height="130.2" fill="#fff" stroke="#8c8c8c" stroke-width="1.5"/>
<line x1="268" y1="37.8" x2="303" y2="37.8" stroke="#8a8ad8" stroke-width="1.1" stroke-dasharray="10 1 2.5 1"/>
<path d="M286.10,33.95 L289.90,39.85 L282.30,39.85 Z" fill="#fff" stroke="#2626c8" stroke-width="1.15" stroke-linejoin="round"/><circle cx="286.10" cy="37.88" r="0.7" fill="#2626c8"/>
<line x1="268" y1="63.2" x2="303" y2="63.2" stroke="#e99ca2" stroke-width="1.1"/>
<circle cx="286.00" cy="63.20" r="3.25" fill="#fff" stroke="#dc3434" stroke-width="1.15"/><circle cx="286.00" cy="63.20" r="0.8" fill="#dc3434"/>
<line x1="268.5" y1="88.7" x2="303.5" y2="88.7" stroke="#9494c0" stroke-width="1.1"/>
<path d="M282.40,86.95 L289.80,86.95 L286.10,92.85 Z" fill="#fff" stroke="#26267a" stroke-width="1.15" stroke-linejoin="round"/><circle cx="286.10" cy="88.92" r="0.7" fill="#26267a"/>
<line x1="268" y1="114.3" x2="303" y2="114.3" stroke="#98a898" stroke-width="1.1" stroke-dasharray="6 0.8"/>
<rect x="283.10" y="111.40" width="5.8" height="5.8" fill="#a8eca8" stroke="#2a7f2a" stroke-width="1.05"/><path d="M286.00,111.40 V117.20 M283.10,114.30 H288.90" stroke="#2a7f2a" stroke-width="0.95"/>
<path d="M281.60,139.70 L290.40,139.70 M282.89,136.59 L289.11,142.81 M286.00,135.30 L286.00,144.10 M289.11,136.59 L282.89,142.81 " stroke="#f000f0" stroke-width="1.1"/><circle cx="286.00" cy="139.70" r="1.6" fill="#f000f0"/>
<g font-size="15.6"><text x="307.2" y="44.6">[100] α-Ga<tspan font-size="9.2" dy="4.4" dx="1">2</tspan><tspan dy="-4.4" dx="0.5">O</tspan><tspan font-size="9.2" dy="4.6" dx="-0.5">3</tspan></text><text x="307.2" y="70.0">[010] α-Ga<tspan font-size="9.2" dy="4.4" dx="1">2</tspan><tspan dy="-4.4" dx="0.5">O</tspan><tspan font-size="9.2" dy="4.6" dx="-0.5">3</tspan></text><text x="307.2" y="95.4">[001] α-Ga<tspan font-size="9.2" dy="4.4" dx="1">2</tspan><tspan dy="-4.4" dx="0.5">O</tspan><tspan font-size="9.2" dy="4.6" dx="-0.5">3</tspan></text><text x="307.2" y="120.8">[100] β-Ga<tspan font-size="9.2" dy="4.4" dx="1">2</tspan><tspan dy="-4.4" dx="0.5">O</tspan><tspan font-size="9.2" dy="4.6" dx="-0.5">3</tspan></text><text x="402.4" y="120.8">(Ref,15)</text><text x="307.2" y="146.2">[100] β-Ga<tspan font-size="9.2" dy="4.4" dx="1">2</tspan><tspan dy="-4.4" dx="0.5">O</tspan><tspan font-size="9.2" dy="4.6" dx="-0.5">3</tspan></text><text x="400.8" y="146.2">exp (Ref,22)</text></g>
</g>
</svg>
</body></html>
